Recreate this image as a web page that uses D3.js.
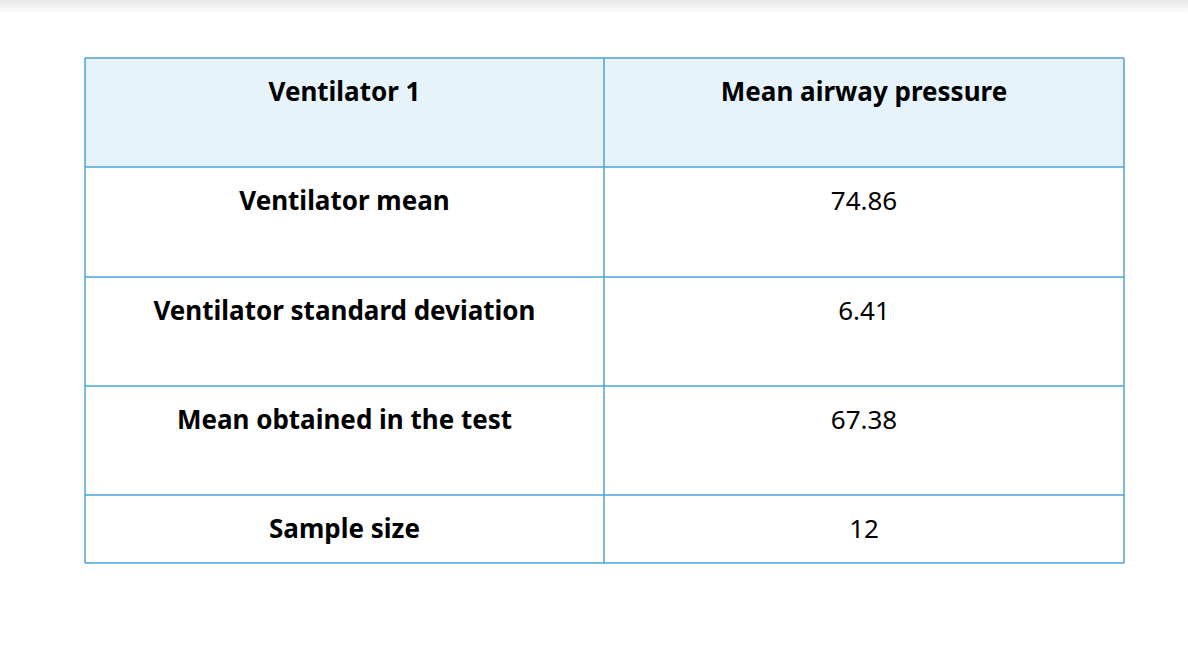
<!DOCTYPE html>
<html>
<head>
<meta charset="utf-8">
<script src="https://cdn.jsdelivr.net/npm/d3@7"></script>
<style>
  html, body { margin: 0; padding: 0; background: #fff; }
  text { font-family: "Liberation Sans Narrow", "Noto Sans", sans-serif; fill: #000; }
</style>
</head>
<body>
<script>
const headers = ["Ventilator 1", "Mean airway pressure"];
const labels = ["Ventilator mean", "Ventilator standard deviation", "Mean obtained in the test", "Sample size"];
const values = ["74.86", "6.41", "67.38", "12"];

const width = 1188, height = 672;
const left = 85, mid = 604, right = 1124;
const rowTops = [58, 167, 277, 386, 495, 563];

const svg = d3.select("body").append("svg")
    .attr("width", width)
    .attr("height", height);

// faint gray band at the top of the page
const grad = svg.append("defs").append("linearGradient")
    .attr("id", "topfade").attr("x1", 0).attr("y1", 0).attr("x2", 0).attr("y2", 1);
grad.append("stop").attr("offset", 0).attr("stop-color", "#e8e8e8");
grad.append("stop").attr("offset", 1).attr("stop-color", "#fff");
svg.append("rect").attr("width", width).attr("height", 14).attr("fill", "url(#topfade)");

const rows = [headers].concat(labels.map((l, i) => [l, values[i]]));

const g = svg.selectAll("g.row")
    .data(rows)
  .enter().append("g")
    .attr("class", "row")
    .attr("transform", (d, i) => "translate(0," + rowTops[i] + ")");

g.append("rect")
    .attr("x", left)
    .attr("width", right - left)
    .attr("height", (d, i) => rowTops[i + 1] - rowTops[i])
    .attr("fill", (d, i) => i === 0 ? "#e6f3fa" : "#fff");

g.selectAll("text")
    .data((d, i) => d.map((t, j) => ({t, j, head: i === 0})))
  .enter().append("text")
    .attr("x", d => d.j === 0 ? (left + mid) / 2 : (mid + right) / 2)
    .attr("y", 43)
    .attr("text-anchor", "middle")
    .style("font-size", "26px")
    .style("font-weight", d => (d.head || d.j === 0) ? "bold" : "normal")
    .text(d => d.t);

// grid lines
const stroke = "#4aa3d6";
svg.selectAll("line.h")
    .data(rowTops)
  .enter().append("line")
    .attr("x1", left).attr("x2", right)
    .attr("y1", d => d).attr("y2", d => d)
    .attr("stroke", stroke).attr("stroke-width", 1.5);

svg.selectAll("line.v")
    .data([left, mid, right])
  .enter().append("line")
    .attr("x1", d => d).attr("x2", d => d)
    .attr("y1", rowTops[0]).attr("y2", rowTops[rowTops.length - 1])
    .attr("stroke", stroke).attr("stroke-width", 1.5);
</script>
</body>
</html>
